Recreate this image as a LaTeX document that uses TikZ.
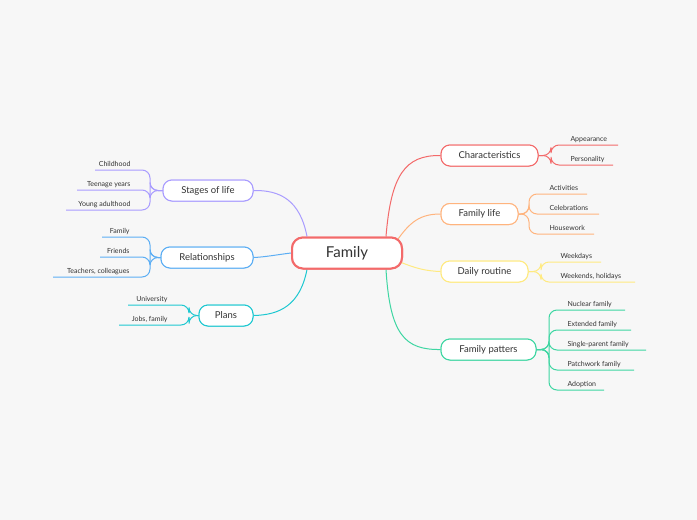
\documentclass[tikz,border=0pt]{standalone}
\usepackage{fontspec}
\setmainfont{Lato}
\begin{document}
\begin{tikzpicture}[x=1pt,y=-1pt,line width=1pt,
  box/.style={draw,rounded corners=9pt,fill=white,text=black!80,font=\fontsize{9.5}{11}\selectfont,minimum height=21pt,inner sep=0pt},
  leaf/.style={text=black!80,font=\fontsize{7}{8}\selectfont,inner sep=0pt},
  br/.style={rounded corners=8pt}]
\definecolor{cR}{HTML}{F36A6A}\definecolor{cO}{HTML}{FFB47E}\definecolor{cY}{HTML}{FFEA80}
\definecolor{cG}{HTML}{3ED6A2}\definecolor{cP}{HTML}{A99CFF}\definecolor{cB}{HTML}{5CAEF4}\definecolor{cC}{HTML}{1EC8D1}
\fill[white] (0,0) rectangle (697,520);
\fill[black!3] (0,0) rectangle (697,520);
% central
\node[box,draw=cR,line width=2pt,minimum width=110pt,minimum height=31pt,rounded corners=11pt,font=\fontsize{15}{17}\selectfont] (c) at (347,253) {Family};
% main branches
\node[box,draw=cR,minimum width=97pt] (ch) at (489.5,155.5) {Characteristics};
\node[box,draw=cO,minimum width=77pt] (fl) at (479.5,214) {Family life};
\node[box,draw=cY,minimum width=87pt] (dr) at (484.5,271.5) {Daily routine};
\node[box,draw=cG,minimum width=95pt] (fp) at (488.5,349.5) {Family patters};
\node[box,draw=cP,minimum width=90pt] (sl) at (208,190.5) {Stages of life};
\node[box,draw=cB,minimum width=92pt] (re) at (207,257.5) {Relationships};
\node[box,draw=cC,minimum width=54pt] (pl) at (226,315.5) {Plans};
\begin{scope}[on background layer/.style={}]
\end{scope}
\draw[cR] (c.north east)++(-17,0) .. controls (391,175) and (405,155) .. (ch.west);
\draw[cO] (c.north east)++(-6,4) .. controls (410,222) and (420,214) .. (fl.west);
\draw[cY] (c.east)++(-3,9) .. controls (415,268) and (425,271) .. (dr.west);
\draw[cG] (c.south east)++(-17,0) .. controls (390,335) and (405,350) .. (fp.west);
\draw[cP] (c.north west)++(16,0) .. controls (300,200) and (280,190) .. (sl.east);
\draw[cB] (c.west) .. controls (275,255) and (265,257) .. (re.east);
\draw[cC] (c.south west)++(16,0) .. controls (300,305) and (280,315) .. (pl.east);
\node[box,draw=cR,minimum width=97pt] at (ch) {Characteristics};
\node[box,draw=cO,minimum width=77pt] at (fl) {Family life};
\node[box,draw=cY,minimum width=87pt] at (dr) {Daily routine};
\node[box,draw=cG,minimum width=95pt] at (fp) {Family patters};
\node[box,draw=cP,minimum width=90pt] at (sl) {Stages of life};
\node[box,draw=cB,minimum width=92pt] at (re) {Relationships};
\node[box,draw=cC,minimum width=54pt] at (pl) {Plans};
\node[box,draw=cR,line width=2pt,minimum width=110pt,minimum height=31pt,rounded corners=11pt,font=\fontsize{15}{17}\selectfont] at (c) {Family};
% Characteristics leaves
\foreach \t/\y/\e in {Appearance/145/618,Personality/165/613}{
  \draw[cR,br] (ch.east) -- (551,155.5) |- (\e,\y);
  \node[leaf,anchor=base west] at (570,\y-4) {\t};}
% Family life
\foreach \t/\y/\e in {Activities/194/587,Celebrations/214/599,Housework/234/594}{
  \draw[cO,br] (fl.east) -- (529,214) |- (\e,\y);
  \node[leaf,anchor=base west] at (549,\y-4) {\t};}
% Daily routine
\foreach \t/\y/\e in {Weekdays/262/601,{Weekends, holidays}/282/635}{
  \draw[cY,br] (dr.east) -- (541,271.5) |- (\e,\y);
  \node[leaf,anchor=base west] at (560,\y-4) {\t};}
% Family patters
\foreach \t/\y/\e in {Nuclear family/310/625,Extended family/330/631,Single-parent family/350/646,Patchwork family/370/634,Adoption/390/604}{
  \draw[cG,br] (fp.east) -- (549,349.5) |- (\e,\y);
  \node[leaf,anchor=base west] at (567,\y-4) {\t};}
% Stages of life
\foreach \t/\y/\e in {Childhood/170/95,Teenage years/190/77,Young adulthood/210/66}{
  \draw[cP,br] (sl.west) -- (150,190.5) |- (\e,\y);
  \node[leaf,anchor=base east] at (131,\y-4) {\t};}
% Relationships
\foreach \t/\y/\e in {Family/237/102,Friends/257/100,{Teachers, colleagues}/277/53}{
  \draw[cB,br] (re.west) -- (150,257.5) |- (\e,\y);
  \node[leaf,anchor=base east] at (130,\y-4) {\t};}
% Plans
\foreach \t/\y/\e in {University/305/128,{Jobs, family}/325/119}{
  \draw[cC,br] (pl.west) -- (189,315.5) |- (\e,\y);
  \node[leaf,anchor=base east] at (168,\y-4) {\t};}
\end{tikzpicture}
\end{document}
